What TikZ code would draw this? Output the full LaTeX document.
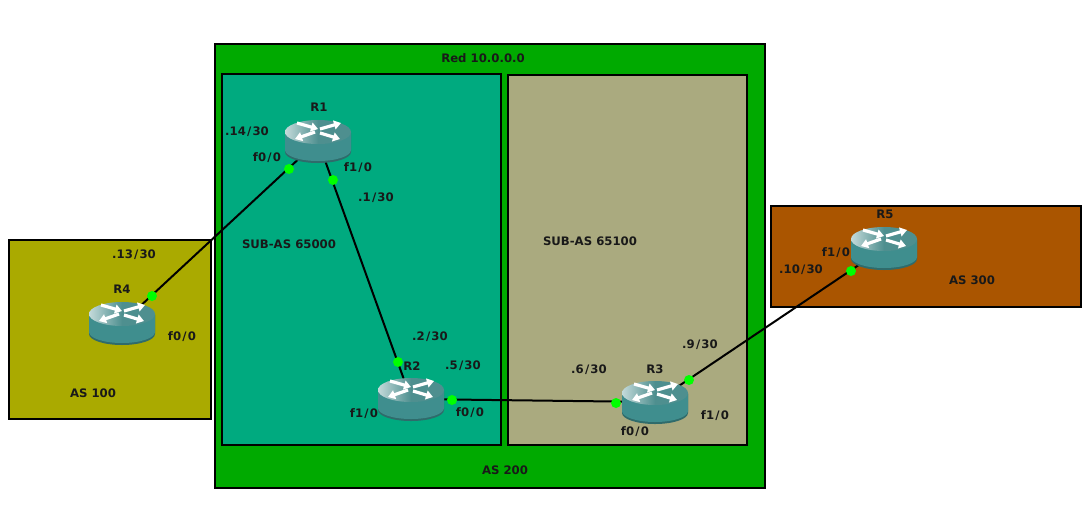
\documentclass[tikz,border=0pt]{standalone}
\usepackage{fontspec}
\setmainfont{DejaVu Sans}
\usetikzlibrary{arrows.meta}
\definecolor{asgreen}{HTML}{00AA00}
\definecolor{subgreen}{HTML}{00AA7F}
\definecolor{subkhaki}{HTML}{AAAA7F}
\definecolor{asolive}{HTML}{AAAA00}
\definecolor{asbrown}{HTML}{AA5500}
\definecolor{rbody}{HTML}{3F8E8E}
\definecolor{rtop}{HTML}{4E8F8F}
\definecolor{rlight}{HTML}{C4DADA}
\newcommand{\slsh}{\kern1.2pt/\kern1.2pt}
\tikzset{
    area/.style={draw=black, line width=2pt},
    lbl/.style={font=\bfseries\fontsize{11.7}{13}\selectfont, inner sep=0pt, text=black!90},
    link/.style={draw=black, line width=2pt},
    dot/.style={circle, fill=green, inner sep=0pt, minimum size=10pt},
    routerpos/.style={inner sep=0pt, minimum width=66pt, minimum height=42pt},
    rarrow/.style={draw=white, line width=3.2pt, -{Triangle[width=9pt, length=7pt]}},
    pics/router/.style={code={
        % shadow, body, top disc, white arrows
        \fill[black!25!rbody] (-33,-8) -- (-33,11) arc[start angle=180, end angle=0, x radius=33, y radius=11] -- (33,-8) -- cycle;
        \fill[rbody] (-33,-9) -- (-33,9) arc[start angle=180, end angle=0, x radius=33, y radius=11] -- (33,-9) -- cycle;
        \shade[left color=rlight, right color=rtop, middle color=rtop] (0,-9) ellipse[x radius=33, y radius=12];
        \draw[rarrow] (-21,-18) -- (0,-12);
        \draw[rarrow] (2,-12) -- (23,-18);
        \draw[rarrow] (-3,-9) -- (-23,-2);
        \draw[rarrow] (2,-8) -- (22,-2);
    }}
}
\begin{document}
\begin{tikzpicture}[x=1pt, y=-1pt]
    \useasboundingbox (0,0) rectangle (1091,509);
    \fill[white] (0,0) rectangle (1091,509);

    % Areas
    \draw[area, fill=asolive] (9,240) rectangle (211,419);
    \draw[area, fill=asbrown] (771,206) rectangle (1081,307);
    \draw[area, fill=asgreen] (215,44) rectangle (765,488);
    \draw[area, fill=subgreen] (222,74) rectangle (501,445);
    \draw[area, fill=subkhaki] (508,75) rectangle (747,445);

    % Router positions
    \node[routerpos] (R1) at (318,141) {};
    \node[routerpos] (R2) at (411,399) {};
    \node[routerpos] (R3) at (655,402) {};
    \node[routerpos] (R4) at (122,323) {};
    \node[routerpos] (R5) at (884,248) {};

    % Links
    \draw[link] (R1.center) -- (R4.center);
    \draw[link] (R1.center) -- (R2.center);
    \draw[link] (R2.center) -- (R3.center);
    \draw[link] (R3.center) -- (R5.center);

    % Routers
    \foreach \r in {R1,R2,R3,R4,R5} \pic at (\r.center) {router};

    % Interface dots
    \node[dot] (d1) at (289,169) {};
    \node[dot] (d2) at (333,180) {};
    \node[dot] (d3) at (152,296) {};
    \node[dot] (d4) at (398,362) {};
    \node[dot] (d5) at (452,400) {};
    \node[dot] (d6) at (616,403) {};
    \node[dot] (d7) at (689,380) {};
    \node[dot] (d8) at (851,271) {};

    % Router names
    \node[lbl] (nR1) at (319,107) {R1};
    \node[lbl] (nR2) at (412,366) {R2};
    \node[lbl] (nR3) at (655,369) {R3};
    \node[lbl] (nR4) at (122,289) {R4};
    \node[lbl] (nR5) at (885,214) {R5};

    % Area labels
    \node[lbl] (t1) at (483,58) {Red 10.0.0.0};
    \node[lbl] (t2) at (505,470) {AS 200};
    \node[lbl] (t3) at (289,244) {SUB-AS 65000};
    \node[lbl] (t4) at (590,241) {SUB-AS 65100};
    \node[lbl] (t5) at (93,393) {AS 100};
    \node[lbl] (t6) at (972,280) {AS 300};

    % Interface labels
    \node[lbl] (a1) at (247,132) {.14\slsh30};
    \node[lbl] (a2) at (267,158) {f0\slsh0};
    \node[lbl] (a3) at (358,168) {f1\slsh0};
    \node[lbl] (a4) at (376,198) {.1\slsh30};
    \node[lbl] (a5) at (134,255) {.13\slsh30};
    \node[lbl] (a6) at (182,337) {f0\slsh0};
    \node[lbl] (a7) at (430,337) {.2\slsh30};
    \node[lbl] (a8) at (463,366) {.5\slsh30};
    \node[lbl] (a9) at (364,414) {f1\slsh0};
    \node[lbl] (a10) at (470,413) {f0\slsh0};
    \node[lbl] (a11) at (589,370) {.6\slsh30};
    \node[lbl] (a12) at (700,345) {.9\slsh30};
    \node[lbl] (a13) at (635,432) {f0\slsh0};
    \node[lbl] (a14) at (715,416) {f1\slsh0};
    \node[lbl] (a15) at (836,253) {f1\slsh0};
    \node[lbl] (a16) at (801,270) {.10\slsh30};
\end{tikzpicture}
\end{document}
